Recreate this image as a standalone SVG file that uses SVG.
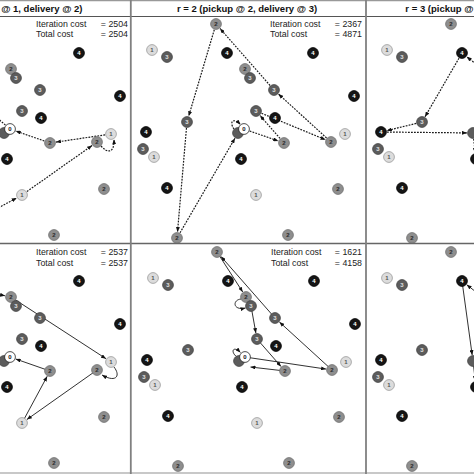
<svg xmlns="http://www.w3.org/2000/svg" width="474" height="474" viewBox="0 0 474 474">
<defs>
<style>
.n circle{stroke-width:0.8}
.n text{font-family:"Liberation Sans",Arial,sans-serif;font-size:6px;font-weight:bold;text-anchor:middle}
.c0 circle{fill:#fff;stroke:#222}
.c0 text{fill:#111}
.c1 circle{fill:#dcdcdc;stroke:#9a9a9a}
.c1 text{fill:#555}
.c2 circle{fill:#8e8e8e;stroke:#707070}
.c2 text{fill:#2a2a2a}
.c3 circle{fill:#5c5c5c;stroke:#444}
.c3 text{fill:#e0e0e0}
.c4 circle{fill:#151515;stroke:#000}
.c4 text{fill:#fff}
.dot path{stroke-dasharray:1.8 1.2;stroke-width:1.2}
.sol path{stroke-width:0.9}
.hdr{font-family:"Liberation Sans",Arial,sans-serif;font-size:9.5px;font-weight:bold;text-anchor:middle;fill:#111}
.hdr.e{text-anchor:end}
.cost{font-family:"Liberation Sans",Arial,sans-serif;font-size:8.8px;fill:#222}
.val{text-anchor:end}
</style>
<marker id="ah" viewBox="0 0 10 8" refX="10" refY="4" markerWidth="5" markerHeight="4" markerUnits="userSpaceOnUse" orient="auto">
<path d="M0,0 L10,4 L0,8 z" fill="#111"/>
</marker>
</defs>
<rect width="474" height="474" fill="#fff"/>

<g id="connectors" fill="none" stroke="#1a1a1a">
 <g id="tl-edges" class="dot" transform="translate(-234,0)">
  <path d="M177,238 L250.7,197.9" marker-end="url(#ah)"/>
  <path d="M256,195 L326.1,145.5" marker-end="url(#ah)"/>
  <path d="M335,146 C341,153 348.5,154 348,139.5" marker-end="url(#ah)"/>
  <path d="M345,134 L289.9,142.1" marker-end="url(#ah)"/>
  <path d="M284,143 L249.7,131" marker-end="url(#ah)"/>
  <path d="M244,129 L152,50"/>
 </g>
 <g id="tm-edges" class="dot">
  <path d="M244,129 L278.3,141" marker-end="url(#ah)"/>
  <path d="M284,143 L260,115.5" marker-end="url(#ah)"/>
  <path d="M256,111 L325.5,139.7" marker-end="url(#ah)"/>
  <path d="M331,142 L278.4,94" marker-end="url(#ah)"/>
  <path d="M274,90 L220,28.5" marker-end="url(#ah)"/>
  <path d="M216,24 L188.7,116.2" marker-end="url(#ah)"/>
  <path d="M187,122 L177.5,232" marker-end="url(#ah)"/>
  <path d="M177,238 L235,138.2" marker-end="url(#ah)"/>
  <path d="M234,129 C229,122 233,117 240.5,124.5" marker-end="url(#ah)"/>
 </g>
 <g id="tr-edges" class="dot" transform="translate(235,0)">
  <path d="M274,90 L231.7,56.7" marker-end="url(#ah)"/>
  <path d="M227,53 L190,116.8" marker-end="url(#ah)"/>
  <path d="M187,122 L151.8,130.6" marker-end="url(#ah)"/>
  <path d="M146,132 L232,132.9" marker-end="url(#ah)"/>
  <path d="M238,133 L240.3,153" marker-end="url(#ah)"/>
 </g>
 <g id="bl-edges" class="sol" transform="translate(-234,228)">
  <path d="M152,50 L239.1,67.8" marker-end="url(#ah)"/>
  <path d="M245,69 L340,130.7" marker-end="url(#ah)"/>
  <path d="M348,139 C355,148 350,155 336,147" marker-end="url(#ah)"/>
  <path d="M331,142 L260.9,191.5" marker-end="url(#ah)"/>
  <path d="M256,195 L281.2,148.3" marker-end="url(#ah)"/>
  <path d="M284,143 L249.7,131" marker-end="url(#ah)"/>
 </g>
 <g id="bm-edges" class="sol" transform="translate(1,228)">
  <path d="M244,129 L325.1,141.1" marker-end="url(#ah)"/>
  <path d="M331,142 L278.4,94" marker-end="url(#ah)"/>
  <path d="M274,90 L220,28.5" marker-end="url(#ah)"/>
  <path d="M216,24 L241.7,64" marker-end="url(#ah)"/>
  <path d="M240,71 C231,72 232,83 244.5,80" marker-end="url(#ah)"/>
  <path d="M250,78 L254.9,105.1" marker-end="url(#ah)"/>
  <path d="M256,111 L280,138.5" marker-end="url(#ah)"/>
  <path d="M284,143 L249.5,139" marker-end="url(#ah)"/>
  <path d="M236,129 C229,124 232,117 239.5,124.5" marker-end="url(#ah)"/>
 </g>
 <g id="br-edges" class="sol" transform="translate(235,228)">
  <path d="M274,90 L231.7,56.7" marker-end="url(#ah)"/>
  <path d="M227,53 L237.2,127.1" marker-end="url(#ah)"/>
  <path d="M238,133 L240.3,153" marker-end="url(#ah)"/>
 </g>
</g>

<g id="panel-tl" transform="translate(-234,0)">
 <text class="hdr e" x="316.5" y="11.5">@ 1, delivery @ 2)</text>
 <text class="cost" x="270" y="27">Iteration cost</text><text class="cost val" x="362" y="27">= 2504</text>
 <text class="cost" x="270" y="37">Total cost</text><text class="cost val" x="362" y="37">= 2504</text>
 <g id="tl-n5" class="n c4" transform="translate(313,53)"><circle r="5.4"/><text y="2.1">4</text></g>
 <g id="tl-n6" class="n c2" transform="translate(245,69)"><circle r="5.4"/><text y="2.1">2</text></g>
 <g id="tl-n7" class="n c3" transform="translate(250,78)"><circle r="5.4"/><text y="2.1">3</text></g>
 <g id="tl-n8" class="n c3" transform="translate(274,90)"><circle r="5.4"/><text y="2.1">3</text></g>
 <g id="tl-n9" class="n c4" transform="translate(354,96)"><circle r="5.4"/><text y="2.1">4</text></g>
 <g id="tl-n10" class="n c3" transform="translate(256,111)"><circle r="5.4"/><text y="2.1">3</text></g>
 <g id="tl-n11" class="n c4" transform="translate(275,118)"><circle r="5.4"/><text y="2.1">4</text></g>
 <g id="tl-k" class="n c3" transform="translate(238,133)"><circle r="5.4"/></g>
 <g id="tl-depot" class="n c0" transform="translate(244,129)"><circle r="5.4"/><text y="2.1">0</text></g>
 <g id="tl-n14" class="n c2" transform="translate(284,143)"><circle r="5.4"/><text y="2.1">2</text></g>
 <g id="tl-n15" class="n c2" transform="translate(331,142)"><circle r="5.4"/><text y="2.1">2</text></g>
 <g id="tl-n16" class="n c1" transform="translate(345,134)"><circle r="5.4"/><text y="2.1">1</text></g>
 <g id="tl-n20" class="n c4" transform="translate(241,159)"><circle r="5.4"/><text y="2.1">4</text></g>
 <g id="tl-n22" class="n c1" transform="translate(256,195)"><circle r="5.4"/><text y="2.1">1</text></g>
 <g id="tl-n23" class="n c2" transform="translate(338,189)"><circle r="5.4"/><text y="2.1">2</text></g>
 <g id="tl-n25" class="n c2" transform="translate(288,235)"><circle r="5.4"/><text y="2.1">2</text></g>
</g>

<g id="panel-tm">
 <text class="hdr" x="247" y="11.5">r = 2 (pickup @ 2, delivery @ 3)</text>
 <text class="cost" x="270" y="27">Iteration cost</text><text class="cost val" x="362" y="27">= 2367</text>
 <text class="cost" x="270" y="37">Total cost</text><text class="cost val" x="362" y="37">= 4871</text>
 <g id="tm-n1" class="n c2" transform="translate(216,24)"><circle r="5.4"/><text y="2.1">2</text></g>
 <g id="tm-n2" class="n c1" transform="translate(152,50)"><circle r="5.4"/><text y="2.1">1</text></g>
 <g id="tm-n3" class="n c3" transform="translate(167,57)"><circle r="5.4"/><text y="2.1">3</text></g>
 <g id="tm-n4" class="n c4" transform="translate(227,53)"><circle r="5.4"/><text y="2.1">4</text></g>
 <g id="tm-n5" class="n c4" transform="translate(313,53)"><circle r="5.4"/><text y="2.1">4</text></g>
 <g id="tm-n6" class="n c2" transform="translate(245,69)"><circle r="5.4"/><text y="2.1">2</text></g>
 <g id="tm-n7" class="n c3" transform="translate(250,78)"><circle r="5.4"/><text y="2.1">3</text></g>
 <g id="tm-n8" class="n c3" transform="translate(274,90)"><circle r="5.4"/><text y="2.1">3</text></g>
 <g id="tm-n9" class="n c4" transform="translate(354,96)"><circle r="5.4"/><text y="2.1">4</text></g>
 <g id="tm-n10" class="n c3" transform="translate(256,111)"><circle r="5.4"/><text y="2.1">3</text></g>
 <g id="tm-n11" class="n c4" transform="translate(275,118)"><circle r="5.4"/><text y="2.1">4</text></g>
 <g id="tm-n12" class="n c3" transform="translate(187,122)"><circle r="5.4"/><text y="2.1">3</text></g>
 <g id="tm-k" class="n c3" transform="translate(238,133)"><circle r="5.4"/></g>
 <g id="tm-depot" class="n c0" transform="translate(244,129)"><circle r="5.4"/><text y="2.1">0</text></g>
 <g id="tm-n14" class="n c2" transform="translate(284,143)"><circle r="5.4"/><text y="2.1">2</text></g>
 <g id="tm-n15" class="n c2" transform="translate(331,142)"><circle r="5.4"/><text y="2.1">2</text></g>
 <g id="tm-n16" class="n c1" transform="translate(345,134)"><circle r="5.4"/><text y="2.1">1</text></g>
 <g id="tm-n17" class="n c4" transform="translate(146,132)"><circle r="5.4"/><text y="2.1">4</text></g>
 <g id="tm-n18" class="n c3" transform="translate(143,149)"><circle r="5.4"/><text y="2.1">3</text></g>
 <g id="tm-n19" class="n c1" transform="translate(154,157)"><circle r="5.4"/><text y="2.1">1</text></g>
 <g id="tm-n20" class="n c4" transform="translate(241,159)"><circle r="5.4"/><text y="2.1">4</text></g>
 <g id="tm-n21" class="n c4" transform="translate(167,188)"><circle r="5.4"/><text y="2.1">4</text></g>
 <g id="tm-n22" class="n c1" transform="translate(256,195)"><circle r="5.4"/><text y="2.1">1</text></g>
 <g id="tm-n23" class="n c2" transform="translate(338,189)"><circle r="5.4"/><text y="2.1">2</text></g>
 <g id="tm-n24" class="n c2" transform="translate(177,238)"><circle r="5.4"/><text y="2.1">2</text></g>
 <g id="tm-n25" class="n c2" transform="translate(288,235)"><circle r="5.4"/><text y="2.1">2</text></g>
</g>

<g id="panel-tr" transform="translate(235,0)">
 <text class="hdr e" x="238.5" y="11.5">r = 3 (pickup @</text>
 <g id="tr-n1" class="n c2" transform="translate(216,24)"><circle r="5.4"/><text y="2.1">2</text></g>
 <g id="tr-n2" class="n c1" transform="translate(152,50)"><circle r="5.4"/><text y="2.1">1</text></g>
 <g id="tr-n3" class="n c3" transform="translate(167,57)"><circle r="5.4"/><text y="2.1">3</text></g>
 <g id="tr-n4" class="n c4" transform="translate(227,53)"><circle r="5.4"/><text y="2.1">4</text></g>
 <g id="tr-n12" class="n c3" transform="translate(187,122)"><circle r="5.4"/><text y="2.1">3</text></g>
 <g id="tr-k" class="n c3" transform="translate(238,133)"><circle r="5.4"/></g>
 <g id="tr-n17" class="n c4" transform="translate(146,132)"><circle r="5.4"/><text y="2.1">4</text></g>
 <g id="tr-n18" class="n c3" transform="translate(143,149)"><circle r="5.4"/><text y="2.1">3</text></g>
 <g id="tr-n19" class="n c1" transform="translate(154,157)"><circle r="5.4"/><text y="2.1">1</text></g>
 <g id="tr-n20" class="n c4" transform="translate(241,159)"><circle r="5.4"/></g>
 <g id="tr-n21" class="n c4" transform="translate(167,188)"><circle r="5.4"/><text y="2.1">4</text></g>
 <g id="tr-n24" class="n c2" transform="translate(177,238)"><circle r="5.4"/><text y="2.1">2</text></g>
</g>

<g id="panel-bl" transform="translate(-234,228)">
 <text class="cost" x="270" y="27">Iteration cost</text><text class="cost val" x="362" y="27">= 2537</text>
 <text class="cost" x="270" y="37.5">Total cost</text><text class="cost val" x="362" y="37.5">= 2537</text>
 <g id="bl-n5" class="n c4" transform="translate(313,53)"><circle r="5.4"/><text y="2.1">4</text></g>
 <g id="bl-n6" class="n c2" transform="translate(245,69)"><circle r="5.4"/><text y="2.1">2</text></g>
 <g id="bl-n7" class="n c3" transform="translate(250,78)"><circle r="5.4"/><text y="2.1">3</text></g>
 <g id="bl-n8" class="n c3" transform="translate(274,90)"><circle r="5.4"/><text y="2.1">3</text></g>
 <g id="bl-n9" class="n c4" transform="translate(354,96)"><circle r="5.4"/><text y="2.1">4</text></g>
 <g id="bl-n10" class="n c3" transform="translate(256,111)"><circle r="5.4"/><text y="2.1">3</text></g>
 <g id="bl-n11" class="n c4" transform="translate(275,118)"><circle r="5.4"/><text y="2.1">4</text></g>
 <g id="bl-k" class="n c3" transform="translate(238,133)"><circle r="5.4"/></g>
 <g id="bl-depot" class="n c0" transform="translate(244,129)"><circle r="5.4"/><text y="2.1">0</text></g>
 <g id="bl-n14" class="n c2" transform="translate(284,143)"><circle r="5.4"/><text y="2.1">2</text></g>
 <g id="bl-n15" class="n c2" transform="translate(331,142)"><circle r="5.4"/><text y="2.1">2</text></g>
 <g id="bl-n16" class="n c1" transform="translate(345,134)"><circle r="5.4"/><text y="2.1">1</text></g>
 <g id="bl-n20" class="n c4" transform="translate(241,159)"><circle r="5.4"/><text y="2.1">4</text></g>
 <g id="bl-n22" class="n c1" transform="translate(256,195)"><circle r="5.4"/><text y="2.1">1</text></g>
 <g id="bl-n23" class="n c2" transform="translate(338,189)"><circle r="5.4"/><text y="2.1">2</text></g>
 <g id="bl-n25" class="n c2" transform="translate(288,235)"><circle r="5.4"/><text y="2.1">2</text></g>
</g>

<g id="panel-bm" transform="translate(1,228)">
 <text class="cost" x="270" y="27">Iteration cost</text><text class="cost val" x="361" y="27">= 1621</text>
 <text class="cost" x="270" y="37.5">Total cost</text><text class="cost val" x="361" y="37.5">= 4158</text>
 <g id="bm-n1" class="n c2" transform="translate(216,24)"><circle r="5.4"/><text y="2.1">2</text></g>
 <g id="bm-n2" class="n c1" transform="translate(152,50)"><circle r="5.4"/><text y="2.1">1</text></g>
 <g id="bm-n3" class="n c3" transform="translate(167,57)"><circle r="5.4"/><text y="2.1">3</text></g>
 <g id="bm-n4" class="n c4" transform="translate(227,53)"><circle r="5.4"/><text y="2.1">4</text></g>
 <g id="bm-n5" class="n c4" transform="translate(313,53)"><circle r="5.4"/><text y="2.1">4</text></g>
 <g id="bm-n6" class="n c2" transform="translate(245,69)"><circle r="5.4"/><text y="2.1">2</text></g>
 <g id="bm-n7" class="n c3" transform="translate(250,78)"><circle r="5.4"/><text y="2.1">3</text></g>
 <g id="bm-n8" class="n c3" transform="translate(274,90)"><circle r="5.4"/><text y="2.1">3</text></g>
 <g id="bm-n9" class="n c4" transform="translate(354,96)"><circle r="5.4"/><text y="2.1">4</text></g>
 <g id="bm-n10" class="n c3" transform="translate(256,111)"><circle r="5.4"/><text y="2.1">3</text></g>
 <g id="bm-n11" class="n c4" transform="translate(275,118)"><circle r="5.4"/><text y="2.1">4</text></g>
 <g id="bm-n12" class="n c3" transform="translate(187,122)"><circle r="5.4"/><text y="2.1">3</text></g>
 <g id="bm-k" class="n c3" transform="translate(238,133)"><circle r="5.4"/></g>
 <g id="bm-depot" class="n c0" transform="translate(244,129)"><circle r="5.4"/><text y="2.1">0</text></g>
 <g id="bm-n14" class="n c2" transform="translate(284,143)"><circle r="5.4"/><text y="2.1">2</text></g>
 <g id="bm-n15" class="n c2" transform="translate(331,142)"><circle r="5.4"/><text y="2.1">2</text></g>
 <g id="bm-n16" class="n c1" transform="translate(345,134)"><circle r="5.4"/><text y="2.1">1</text></g>
 <g id="bm-n17" class="n c4" transform="translate(146,132)"><circle r="5.4"/><text y="2.1">4</text></g>
 <g id="bm-n18" class="n c3" transform="translate(143,149)"><circle r="5.4"/><text y="2.1">3</text></g>
 <g id="bm-n19" class="n c1" transform="translate(154,157)"><circle r="5.4"/><text y="2.1">1</text></g>
 <g id="bm-n20" class="n c4" transform="translate(241,159)"><circle r="5.4"/><text y="2.1">4</text></g>
 <g id="bm-n21" class="n c4" transform="translate(167,188)"><circle r="5.4"/><text y="2.1">4</text></g>
 <g id="bm-n22" class="n c1" transform="translate(256,195)"><circle r="5.4"/><text y="2.1">1</text></g>
 <g id="bm-n23" class="n c2" transform="translate(338,189)"><circle r="5.4"/><text y="2.1">2</text></g>
 <g id="bm-n24" class="n c2" transform="translate(177,238)"><circle r="5.4"/><text y="2.1">2</text></g>
 <g id="bm-n25" class="n c2" transform="translate(288,235)"><circle r="5.4"/><text y="2.1">2</text></g>
</g>

<g id="panel-br" transform="translate(235,228)">
 <g id="br-n1" class="n c2" transform="translate(216,24)"><circle r="5.4"/><text y="2.1">2</text></g>
 <g id="br-n2" class="n c1" transform="translate(152,50)"><circle r="5.4"/><text y="2.1">1</text></g>
 <g id="br-n3" class="n c3" transform="translate(167,57)"><circle r="5.4"/><text y="2.1">3</text></g>
 <g id="br-n4" class="n c4" transform="translate(227,53)"><circle r="5.4"/><text y="2.1">4</text></g>
 <g id="br-n12" class="n c3" transform="translate(187,122)"><circle r="5.4"/><text y="2.1">3</text></g>
 <g id="br-k" class="n c3" transform="translate(238,133)"><circle r="5.4"/></g>
 <g id="br-n17" class="n c4" transform="translate(146,132)"><circle r="5.4"/><text y="2.1">4</text></g>
 <g id="br-n18" class="n c3" transform="translate(143,149)"><circle r="5.4"/><text y="2.1">3</text></g>
 <g id="br-n19" class="n c1" transform="translate(154,157)"><circle r="5.4"/><text y="2.1">1</text></g>
 <g id="br-n20" class="n c4" transform="translate(241,159)"><circle r="5.4"/></g>
 <g id="br-n21" class="n c4" transform="translate(167,188)"><circle r="5.4"/><text y="2.1">4</text></g>
 <g id="br-n24" class="n c2" transform="translate(177,238)"><circle r="5.4"/><text y="2.1">2</text></g>
</g>

<g id="frame" fill="none">
 <line x1="0" y1="0.6" x2="474" y2="0.6" stroke="#999" stroke-width="1.2"/>
 <line x1="0" y1="16.5" x2="474" y2="16.5" stroke="#555" stroke-width="1"/>
 <line x1="0" y1="243.5" x2="474" y2="243.5" stroke="#666" stroke-width="1.3"/>
 <line x1="0" y1="473" x2="474" y2="473" stroke="#c8c8c8" stroke-width="2"/>
 <line x1="130.8" y1="0" x2="130.8" y2="474" stroke="#808080" stroke-width="1.8"/>
 <line x1="366" y1="0" x2="366" y2="474" stroke="#808080" stroke-width="1.8"/>
</g>
</svg>
